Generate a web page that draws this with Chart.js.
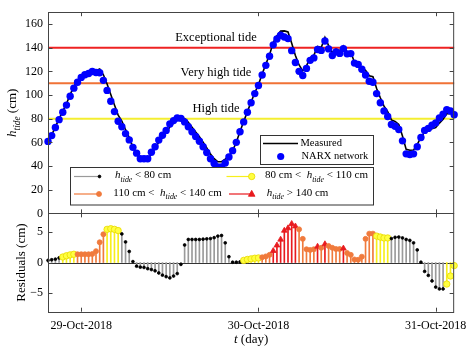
<!DOCTYPE html>
<html><head><meta charset="utf-8">
<script src="https://cdn.jsdelivr.net/npm/chart.js@4/dist/chart.umd.min.js"></script>
<style>html,body{margin:0;padding:0;background:#fff}canvas{display:block}</style>
</head><body>
<canvas id="c" width="474" height="353"></canvas>
<script>
// time in hours from 29-Oct-2018 00:00 (30-min sampling)
const hours = [-4.5,-4,-3.5,-3,-2.5,-2,-1.5,-1,-0.5,0,0.5,1,1.5,2,2.5,3,3.5,4,4.5,5,5.5,6,6.5,7,7.5,8,8.5,9,9.5,10,10.5,11,11.5,12,12.5,13,13.5,14,14.5,15,15.5,16,16.5,17,17.5,18,18.5,19,19.5,20,20.5,21,21.5,22,22.5,23,23.5,24,24.5,25,25.5,26,26.5,27,27.5,28,28.5,29,29.5,30,30.5,31,31.5,32,32.5,33,33.5,34,34.5,35,35.5,36,36.5,37,37.5,38,38.5,39,39.5,40,40.5,41,41.5,42,42.5,43,43.5,44,44.5,45,45.5,46,46.5,47,47.5,48,48.5,49,49.5,50,50.5];
const narx = [60.8,65.7,72.6,79.2,85.5,91.5,99,105.8,110.8,114.9,117.1,118.2,119.9,119,118.8,112.4,103.9,94.8,86,77.8,73.2,67.4,62.1,55.8,50.9,46.2,46.2,46.2,51.7,56.3,61.9,66,70.1,75.6,78.4,80.6,80.3,77.3,73.2,69,64.9,61,56.3,51.4,46.2,42.1,39.3,39.3,42.6,47.6,53,60,69,77.3,85.5,93.5,101.2,108,116.9,125.1,132.8,142.4,147.4,150.5,149,147.7,137.5,127.5,120,116.5,122.5,129.3,131.4,138.5,137.7,145.7,139,133.4,136.5,135.2,139.2,134.8,135,127,125.9,121.8,116.9,111.6,110.8,101.2,93.5,86.6,81.9,75.1,73.6,70.9,61.3,50.3,49.7,50.3,56.3,64.1,70.1,71.8,74.5,76.5,80.6,83.9,87.7,86.6,83.3];
const measured = [61.1,66.1,73.1,79.9,86.4,92.6,100.3,107.2,112.1,116.2,118.4,119.5,121.3,120.8,122.1,117.1,109.4,100.4,91.5,83.0,77.9,70.7,64.0,56.0,50.3,45.5,45.4,45.2,50.6,55.0,60.2,64.0,67.8,73.1,76.2,78.8,80.0,80.2,77.0,72.8,68.7,64.8,60.1,55.3,50.1,46.2,43.6,43.7,45.8,48.6,53.1,60.1,69.1,77.7,86.0,94.1,101.9,108.8,117.8,126.1,134.1,144.3,150.2,154.0,154.2,153.3,143.8,133.4,125.4,120.4,124.7,131.4,133.6,141.1,140.1,148.7,141.7,135.8,138.7,137.4,141.5,136.4,136.3,127.5,126.4,122.8,120.8,116.3,115.5,105.5,97.7,90.6,85.9,79.0,77.7,75.1,65.3,54.1,53.3,53.5,58.4,64.2,68.7,69.7,71.5,72.5,76.3,79.6,84.2,84.4,82.8];
const residuals = [0.35,0.45,0.55,0.75,0.9,1.1,1.25,1.35,1.35,1.35,1.35,1.35,1.4,1.85,3.3,4.6,5.4,5.5,5.4,5.2,4.65,3.35,1.8,0.15,-0.6,-0.75,-0.8,-1.0,-1.15,-1.35,-1.7,-2.05,-2.3,-2.5,-2.2,-1.8,-0.3,2.85,3.75,3.75,3.75,3.75,3.8,3.85,3.9,4.05,4.3,4.4,3.2,0.95,0.05,0.05,0.1,0.35,0.5,0.6,0.7,0.75,0.85,1.0,1.25,1.9,2.8,3.75,5.2,5.6,6.3,5.9,5.4,3.85,2.16,2.05,2.16,2.6,2.4,3.0,2.7,2.4,2.2,2.2,2.3,1.55,1.25,0.5,0.45,0.95,3.85,4.7,4.7,4.3,4.15,4.0,4.0,3.9,4.1,4.15,4.0,3.75,3.6,3.2,2.05,0.05,-1.45,-2.1,-3.0,-4.0,-4.3,-4.3,-3.5,-2.2,-0.5];
// tide class of each residual: 0 = <80, 1 = 80-110, 2 = 110-140, 3 = >140 cm
const tideLevel = [0,0,0,0,1,1,1,1,2,2,2,2,2,2,2,2,1,1,1,1,0,0,0,0,0,0,0,0,0,0,0,0,0,0,0,0,0,0,0,0,0,0,0,0,0,0,0,0,0,0,0,0,0,1,1,1,1,1,2,2,2,3,3,3,3,3,3,3,2,2,2,2,2,3,2,3,2,2,2,2,3,2,2,2,2,2,2,2,2,1,1,1,1,0,0,0,0,0,0,0,0,0,0,0,0,0,0,0,1,1,1];
const thresholds = [140,110,80];
const thresholdNames = ['Exceptional tide','Very high tide','High tide'];
const topTicks = [0,20,40,60,80,100,120,140,160];
const resTicks = [-5,0,5];
const dayTicks = [0,24,48];
const dayLabels = ['29-Oct-2018','30-Oct-2018','31-Oct-2018'];

const X_MIN = -4.5, X_MAX = 50.5;
const SERIF = '"Liberation Serif","Times New Roman",serif';
const thrColors = ['#ee2222','#f07236','#f4ee30'];
const stemColors = ['#9a9a9a','#f7ef1c','#f07a3c','#e81a1e'];
const markFill = ['#000000','#ffff40','#f07a3c','#e81a1e'];
const markEdge = ['#000000','#e8d800','#f07a3c','#e81a1e'];
const markStyle = ['circle','circle','circle','triangle'];
const markRadius = [1.4,3.2,2.5,3.3];

function fontFor(st, fs){
  if(st==='s') return 'italic '+(fs*0.72).toFixed(1)+'px '+SERIF;
  if(st==='i') return 'italic '+fs+'px '+SERIF;
  return fs+'px '+SERIF;
}
function drawRich(ctx, parts, x, y, fs, align){
  let w=0; const ws=[];
  parts.forEach(p=>{ctx.font=fontFor(p[1],fs); const m=ctx.measureText(p[0]).width; ws.push(m); w+=m;});
  let cx = align==='center' ? x-w/2 : x;
  ctx.textAlign='left'; ctx.textBaseline='middle'; ctx.fillStyle='#000';
  parts.forEach((p,i)=>{ctx.font=fontFor(p[1],fs); const dy=p[1]==='s'?fs*0.38:0; ctx.fillText(p[0],cx,y+dy); cx+=ws[i];});
}
function marker(ctx, lvl, x, y){
  ctx.save();
  ctx.fillStyle=markFill[lvl]; ctx.strokeStyle=markEdge[lvl]; ctx.lineWidth=0.8;
  const r=markRadius[lvl];
  ctx.beginPath();
  if(markStyle[lvl]==='triangle'){ctx.moveTo(x,y-r*1.1);ctx.lineTo(x+r,y+r*0.7);ctx.lineTo(x-r,y+r*0.7);ctx.closePath();}
  else ctx.arc(x,y,r,0,Math.PI*2);
  ctx.fill(); ctx.stroke(); ctx.restore();
}

const decor = {
  id:'decor',
  beforeDatasetsDraw(chart){
    const {ctx, chartArea:a, scales:{y2}} = chart;
    ctx.save(); ctx.strokeStyle='#333'; ctx.lineWidth=1;
    const yz=Math.round(y2.getPixelForValue(0))+0.5;
    ctx.beginPath(); ctx.moveTo(a.left,yz); ctx.lineTo(a.right,yz); ctx.stroke(); ctx.restore();
  },
  afterDraw(chart){
    const {ctx, chartArea:a, scales:{x,y,y2}} = chart;
    ctx.save();
    ctx.strokeStyle='#444'; ctx.lineWidth=1;
    const L=a.left+0.5, R=a.right-0.5;
    [[y.top,y.bottom],[y2.top,y2.bottom]].forEach(([t,b])=>{ctx.strokeRect(L,Math.round(t)+0.5,R-L,Math.round(b)-Math.round(t));});
    const tl=4;
    ctx.beginPath();
    dayTicks.forEach(v=>{const px=Math.round(x.getPixelForValue(v))+0.5;
      [y.top,y.bottom,y2.top,y2.bottom].forEach((yy,i)=>{const d=(i%2===0)?tl:-tl; ctx.moveTo(px,yy); ctx.lineTo(px,yy+d);});});
    topTicks.forEach(v=>{const py=Math.round(y.getPixelForValue(v))+0.5; ctx.moveTo(L,py);ctx.lineTo(L+tl,py);ctx.moveTo(R,py);ctx.lineTo(R-tl,py);});
    resTicks.forEach(v=>{const py=Math.round(y2.getPixelForValue(v))+0.5; ctx.moveTo(L,py);ctx.lineTo(L+tl,py);ctx.moveTo(R,py);ctx.lineTo(R-tl,py);});
    ctx.stroke();
    // threshold labels
    ctx.fillStyle='#000'; ctx.font='12.5px '+SERIF; ctx.textAlign='center'; ctx.textBaseline='middle';
    thresholds.forEach((t,i)=>{ctx.fillText(thresholdNames[i], 216, y.getPixelForValue(t)-10);});
    // legend 1
    ctx.fillStyle='#fff'; ctx.strokeStyle='#333';
    ctx.fillRect(260.5,135.5,113,29); ctx.strokeRect(260.5,135.5,113,29);
    ctx.strokeStyle='#000'; ctx.lineWidth=1.6; ctx.beginPath(); ctx.moveTo(263,143.5); ctx.lineTo(298,143.5); ctx.stroke();
    ctx.fillStyle='#0000ff'; ctx.beginPath(); ctx.arc(280.7,156.5,3.6,0,Math.PI*2); ctx.fill();
    drawRich(ctx,[['Measured','']],300.5,143.5,10.5,'left');
    drawRich(ctx,[['NARX network','']],301.5,156.5,10.5,'left');
    // legend 2
    ctx.lineWidth=1; ctx.fillStyle='#fff'; ctx.strokeStyle='#333';
    ctx.fillRect(70.5,167.5,303,37.5); ctx.strokeRect(70.5,167.5,303,37.5);
    const rows=[[0,74,99.5,176.5],[2,74,99,194],[1,226.5,251.7,176.5],[3,229,251.7,194]];
    rows.forEach(([lvl,x0,x1,yy])=>{ctx.strokeStyle=stemColors[lvl]; ctx.lineWidth=1.2; ctx.beginPath(); ctx.moveTo(x0,yy); ctx.lineTo(x1,yy); ctx.stroke(); marker(ctx,lvl,x1,yy);});
    drawRich(ctx,[['h','i'],['tide','s'],[' < 80 cm','']],115,175.5,11,'left');
    drawRich(ctx,[['110 cm <  ',''],['h','i'],['tide','s'],[' < 140 cm','']],113.3,193,11,'left');
    drawRich(ctx,[['80 cm <  ',''],['h','i'],['tide','s'],[' < 110 cm','']],265,175.5,11,'left');
    drawRich(ctx,[['h','i'],['tide','s'],[' > 140 cm','']],266.7,193,11,'left');
    // axis titles
    drawRich(ctx,[['t','i'],[' (day)','']],(a.left+a.right)/2,340,13,'center');
    ctx.save(); ctx.translate(13,(y.top+y.bottom)/2); ctx.rotate(-Math.PI/2);
    drawRich(ctx,[['h','i'],['tide','s'],[' (cm)','']],0,0,13,'center'); ctx.restore();
    ctx.save(); ctx.translate(21.5,(y2.top+y2.bottom)/2); ctx.rotate(-Math.PI/2);
    drawRich(ctx,[['Residuals (cm)','']],0,0,13,'center'); ctx.restore();
    ctx.restore();
  }
};

const pts = arr => arr.map((v,i)=>({x:hours[i], y:v}));
const thrLine = (t,i) => ({type:'line', data:[{x:X_MIN,y:t},{x:X_MAX,y:t}], yAxisID:'y', borderColor:thrColors[i], borderWidth:2, pointRadius:0, clip:false});

new Chart(document.getElementById('c'), {
  type:'line',
  data:{datasets:[
    {type:'line', label:'NARX network', data:pts(narx), yAxisID:'y', showLine:false, pointRadius:3.7, pointBackgroundColor:'#0000ff', pointBorderWidth:0, clip:false},
    {type:'line', label:'Measured', data:pts(measured), yAxisID:'y', borderColor:'#000', borderWidth:1.6, pointRadius:0, tension:0, clip:false},
    ...thresholds.map(thrLine),
    {type:'line', label:'markers', data:pts(residuals), yAxisID:'y2', showLine:false, clip:false,
      pointStyle:c=>markStyle[tideLevel[c.dataIndex]], pointRadius:c=>markRadius[tideLevel[c.dataIndex]],
      pointBackgroundColor:c=>markFill[tideLevel[c.dataIndex]], pointBorderColor:c=>markEdge[tideLevel[c.dataIndex]], pointBorderWidth:0.8},
    {type:'bar', label:'stems', data:pts(residuals), yAxisID:'y2', barThickness:1, grouped:false,
      backgroundColor:c=>stemColors[tideLevel[c.dataIndex]], borderWidth:0, clip:false}
  ]},
  options:{
    responsive:false, animation:false, devicePixelRatio:1, events:[],
    layout:{padding:{left:0,right:14,top:5,bottom:0}},
    plugins:{legend:{display:false}, tooltip:{enabled:false}},
    scales:{
      x:{type:'linear', min:X_MIN, max:X_MAX, offset:false,
        afterBuildTicks:s=>{s.ticks=dayTicks.map(v=>({value:v}));},
        afterFit:s=>{s.height=41.3;},
        grid:{display:false, drawTicks:false}, border:{display:false},
        ticks:{callback:(v)=>dayLabels[dayTicks.indexOf(v)], color:'#000', font:{family:SERIF,size:12}, padding:7, maxRotation:0, autoSkip:false}},
      y2:{type:'linear', position:'left', stack:'p', stackWeight:100.7, min:-8, max:8,
        afterBuildTicks:s=>{s.ticks=resTicks.map(v=>({value:v}));},
        afterFit:s=>{s.width=48;},
        grid:{display:false, drawTicks:false}, border:{display:false},
        ticks:{color:'#000', font:{family:SERIF,size:12}, padding:5, autoSkip:false, callback:v=>String(v).replace('-','\u2212')}},
      y:{type:'linear', position:'left', stack:'p', stackWeight:206, min:0, max:170,
        afterBuildTicks:s=>{s.ticks=topTicks.map(v=>({value:v}));},
        afterFit:s=>{s.width=48;},
        grid:{display:false, drawTicks:false}, border:{display:false},
        ticks:{color:'#000', font:{family:SERIF,size:12}, padding:5, autoSkip:false}}
    }
  },
  plugins:[decor]
});
</script>
</body></html>
